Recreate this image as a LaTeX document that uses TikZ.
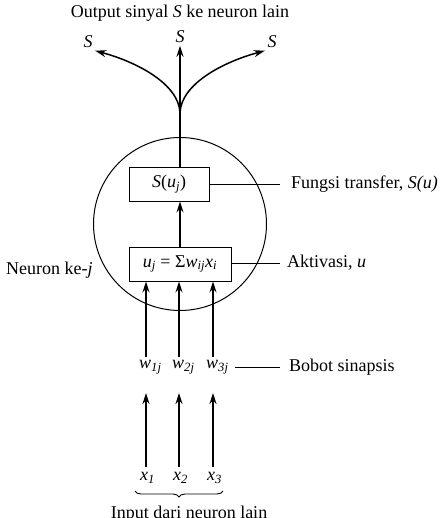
\documentclass[tikz,border=0pt]{standalone}
\usepackage{fontspec}
\setmainfont{Liberation Serif}
\usetikzlibrary{arrows.meta,decorations.pathreplacing}
\newcommand\isub[1]{\textsubscript{\itshape #1}}
\begin{document}
\begin{tikzpicture}[x=1pt,y=-1pt,
  every node/.style={font=\fontsize{18}{21}\selectfont, inner sep=0pt},
  arr/.style={line width=1.5pt,-{Stealth[length=11pt,width=7pt]}},
  lead/.style={line width=0.9pt},
  box/.style={draw, line width=0.9pt, minimum height=34pt}]
\useasboundingbox (0,0) rectangle (442,518);
% title and outputs
\node (title) at (180,13) {Output sinyal \textit{S} ke neuron lain};
\node[inner sep=2.5pt] (sl) at (88,42) {\textit{S}};
\node[inner sep=2.5pt] (sm) at (180,37) {\textit{S}};
\node[inner sep=2.5pt] (sr) at (272,42) {\textit{S}};
\coordinate (fork) at (180,113);
% neuron
\node[circle, draw, line width=1pt, minimum size=173pt] (neuron) at (180,224) {};
\node[box, minimum width=80pt] (sbox) at (169,184) {\textit{S}(\textit{u}\isub{j})};
\node[box, minimum width=102pt] (ubox) at (180,264) {\textit{u}\isub{j} = Σ\textit{w}\isub{ij}\textit{x}\isub{i}};
\coordinate (trunk) at (ubox.north |- sbox.north);
\draw[arr] (ubox.north) -- (ubox.north |- sbox.south);
\draw[line width=1.5pt] (trunk) -- (fork);
\draw[arr] (fork) -- (sm.south);
\draw[arr] (fork) .. controls (179,84) and (137,62) .. (sl.south east);
\draw[arr] (fork) .. controls (181,84) and (223,62) .. (sr.south west);
% weights
\node[anchor=west] (w1) at (139,367) {\textit{w}\isub{1j}};
\node[anchor=west] (w2) at (172,367) {\textit{w}\isub{2j}};
\node[anchor=west] (w3) at (206,367) {\textit{w}\isub{3j}};
\coordinate (a1) at (146,357);
\coordinate (a2) at (179,357);
\coordinate (a3) at (213,357);
\draw[arr] (a1) -- (a1 |- ubox.south);
\draw[arr] (a2) -- (a2 |- ubox.south);
\draw[arr] (a3) -- (a3 |- ubox.south);
% inputs
\node[anchor=west] (x1) at (140,478) {\textit{x}\isub{1}};
\node[anchor=west] (x2) at (173,478) {\textit{x}\isub{2}};
\node[anchor=west] (x3) at (207,478) {\textit{x}\isub{3}};
\coordinate (b1) at (146,467);
\coordinate (b2) at (179,467);
\coordinate (b3) at (213,467);
\draw[arr] (b1) -- (146,393);
\draw[arr] (b2) -- (179,393);
\draw[arr] (b3) -- (213,393);
\draw[line width=0.9pt, decorate, decoration={brace, mirror, amplitude=6pt}] (135,491) -- (223,491);
\node[anchor=north] (input) at (189,506) {Input dari neuron lain};
% labels
\node[anchor=west] (ft) at (291,184) {Fungsi transfer, \textit{S(u)}};
\node[anchor=west] (akt) at (287,263) {Aktivasi, \textit{u}};
\node[anchor=west] (bob) at (289,367) {Bobot sinapsis};
\node[anchor=west] (nk) at (6,270) {Neuron ke-\textit{j}};
\draw[lead] (sbox.east) -- ([xshift=-11pt]ft.west);
\draw[lead] (ubox.east |- akt.west) -- ([xshift=-7pt]akt.west);
\draw[lead] ([xshift=6pt]w3.east |- bob.west) -- ([xshift=-9pt]bob.west);
\end{tikzpicture}
\end{document}
